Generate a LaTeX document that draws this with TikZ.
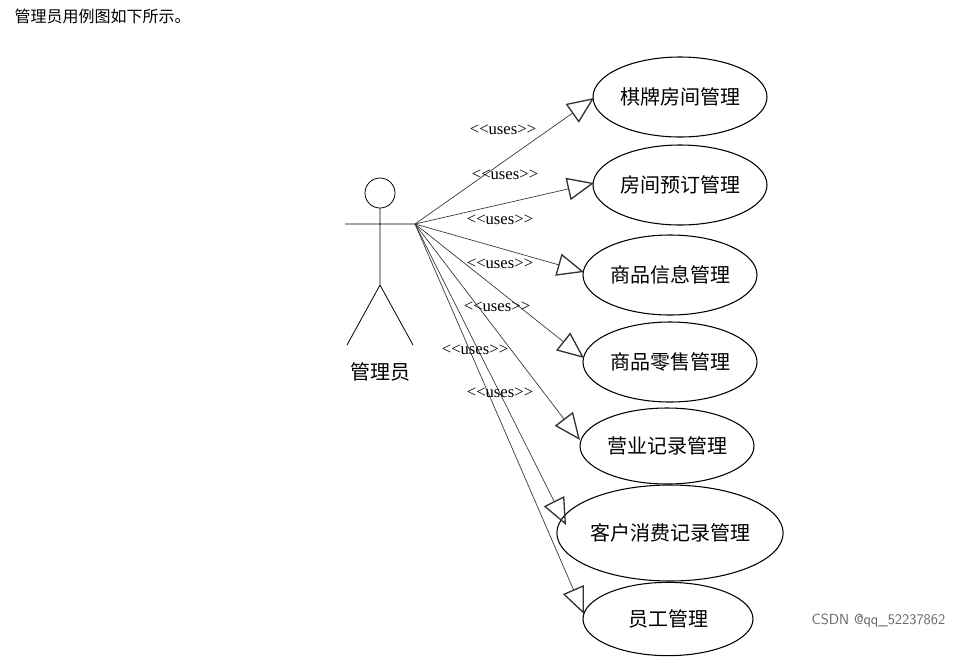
\documentclass[tikz,border=0pt]{standalone}
\usepackage{fontspec}
\setmainfont{Liberation Serif}
\newfontfamily\cjk{Noto Sans CJK SC}
\usetikzlibrary{arrows.meta, shapes.geometric}

\tikzset{
  usecase/.style={draw, ellipse, inner sep=0pt, line width=0.8pt, font=\cjk\fontsize{15}{15}\selectfont},
  uses/.style={-{Triangle[open, length=20pt, width=17pt, line width=1pt]}, line width=0.5pt, draw=black!80},
  stereo/.style={font=\fontsize{12.5}{12.5}\selectfont}
}

\begin{document}
\begin{tikzpicture}[x=0.75pt, y=-0.75pt]
        \useasboundingbox (0,0) rectangle (963,668);
        \node[anchor=west, font=\cjk\fontsize{12}{12}\selectfont] (title) at (10,16) {管理员用例图如下所示。};
        % Define the actor
        \draw[line width=0.6pt] (380,193) circle (15);
        \draw[line width=0.6pt] (380,208) -- (380,285) (345,224) -- (415,224)
          (347,345) -- (380,285) -- (413,345);
        \coordinate (hand) at (415,224);
        \node[font=\cjk\fontsize{15}{15}\selectfont] (admin) at (380,372) {管理员};
        % Define the use cases
        \node[usecase, minimum width=130.5pt, minimum height=60pt] (room) at (680,97) {棋牌房间管理};
        \node[usecase, minimum width=130.5pt, minimum height=60pt] (booking) at (680,185) {房间预订管理};
        \node[usecase, minimum width=130.5pt, minimum height=60pt] (goods) at (670,275) {商品信息管理};
        \node[usecase, minimum width=130.5pt, minimum height=60pt] (retail) at (670,362) {商品零售管理};
        \node[usecase, minimum width=130.5pt, minimum height=57pt] (business) at (667,446) {营业记录管理};
        \node[usecase, minimum width=165pt, minimum height=72pt] (customer) at (670,533) {客户消费记录管理};
        \node[usecase, minimum width=127.5pt, minimum height=55pt] (staff) at (668,619) {员工管理};
        % Arrow tips on the left rims
        \coordinate (t1) at (594,98);
        \coordinate (t2) at (594,183);
        \coordinate (t3) at (584,272);
        \coordinate (t4) at (584,358);
        \coordinate (t5) at (580,440);
        \coordinate (t6) at (566,525);
        \coordinate (t7) at (584,614);
        % Define the relations
        \draw[uses] (hand) -- (t1);
        \draw[uses] (hand) -- (t2);
        \draw[uses] (hand) -- (t3);
        \draw[uses] (hand) -- (t4);
        \draw[uses] (hand) -- (t5);
        \draw[uses] (hand) -- (t6);
        \draw[uses] (hand) -- (t7);
        \node[stereo] (l1) at (503,130) {<{}<uses>{}>};
        \node[stereo] (l2) at (505,175) {<{}<uses>{}>};
        \node[stereo] (l3) at (500,220) {<{}<uses>{}>};
        \node[stereo] (l4) at (500,264) {<{}<uses>{}>};
        \node[stereo] (l5) at (497,307) {<{}<uses>{}>};
        \node[stereo] (l6) at (475,350) {<{}<uses>{}>};
        \node[stereo] (l7) at (500,393) {<{}<uses>{}>};
        \node[font=\fontsize{11}{11}\selectfont\sffamily, text=black!60, anchor=east] (mark) at (950,621) {CSDN @qq\_52237862};
    \end{tikzpicture}
\end{document}
